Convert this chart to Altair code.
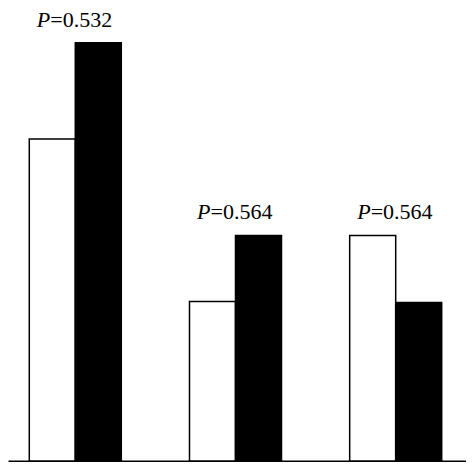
import altair as alt
import pandas as pd

groups = ["G1", "G2", "G3"]
series = ["Control", "Treatment"]
control = [72.5, 35.9, 50.8]
treatment = [94.2, 50.8, 35.7]
p_labels = ["=0.532", "=0.564", "=0.564"]

rows = []
for g, c, t in zip(groups, control, treatment):
    rows.append({"group": g, "series": series[0], "value": c})
    rows.append({"group": g, "series": series[1], "value": t})
bars_df = pd.DataFrame(rows)

lab_df = pd.DataFrame({
    "group": groups,
    "top": [max(c, t) for c, t in zip(control, treatment)],
    "p": ["P"] * 3,
    "rest": p_labels,
})

xscale = alt.Scale(domain=groups, paddingInner=0.4257, paddingOuter=0.1423, align=0.467)
yscale = alt.Scale(domain=[0, 102])
xaxis = alt.Axis(title=None, labels=False, ticks=False, domain=True,
                 domainColor="black", domainWidth=2, grid=False)

bars = alt.Chart(bars_df).mark_bar(stroke="black", strokeWidth=1.5).encode(
    x=alt.X("group:N", scale=xscale, axis=xaxis, sort=groups),
    xOffset=alt.XOffset("series:N", sort=series,
                        scale=alt.Scale(paddingInner=0, paddingOuter=0)),
    y=alt.Y("value:Q", scale=yscale, axis=None),
    color=alt.Color("series:N", sort=series,
                    scale=alt.Scale(domain=series, range=["white", "black"]),
                    legend=None),
)

font = "'Liberation Serif', 'Times New Roman', serif"
p_text = alt.Chart(lab_df).mark_text(
    font=font, fontSize=22, fontStyle="italic", align="right",
    baseline="alphabetic", dx=-25, dy=-16, color="black"
).encode(
    x=alt.X("group:N", scale=xscale, axis=xaxis, sort=groups),
    y=alt.Y("top:Q", scale=yscale, axis=None),
    text="p:N",
)
rest_text = alt.Chart(lab_df).mark_text(
    font=font, fontSize=22, align="left",
    baseline="alphabetic", dx=-25, dy=-16, color="black"
).encode(
    x=alt.X("group:N", scale=xscale, axis=xaxis, sort=groups),
    y=alt.Y("top:Q", scale=yscale, axis=None),
    text="rest:N",
)

chart = alt.layer(bars, p_text, rest_text).properties(
    width=458, height=453,
    autosize=alt.AutoSizeParams(type="none"),
    padding={"left": 0, "top": 0, "right": 0, "bottom": 1},
).configure_view(stroke=None)

chart.save("out.html", embed_options={"renderer": "svg", "actions": False})
